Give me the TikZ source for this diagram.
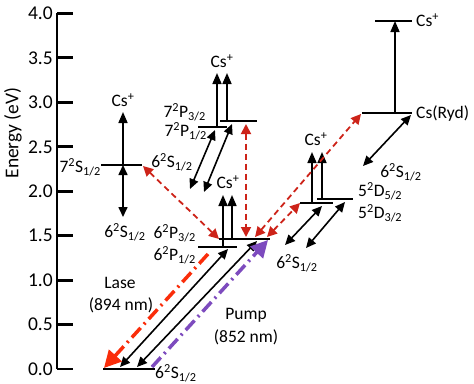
\documentclass[tikz,border=0pt]{standalone}
\usepackage{fontspec}
\setmainfont{Carlito}
\usetikzlibrary{arrows.meta}
\definecolor{dred}{RGB}{205,35,25}
\definecolor{lred}{RGB}{250,45,10}
\definecolor{pump}{RGB}{125,75,190}
\newcommand{\lv}[3]{#1\textsuperscript{2}#2\textsubscript{#3}}
\newcommand{\csp}{Cs\textsuperscript{+}}
\begin{document}
\begin{tikzpicture}[x=1pt,y=-1pt,
  level/.style={line width=2.6pt},
  axisline/.style={line width=2.8pt},
  uparr/.style={line width=1.6pt,-{Triangle[length=11pt,width=9pt]}},
  dbl/.style={line width=1.6pt,{Triangle[length=10pt,width=9pt]}-{Triangle[length=10pt,width=9pt]}},
  rdash/.style={draw=dred,line width=1.8pt,dash pattern=on 6pt off 4pt,
     {Triangle[length=10pt,width=10pt]}-{Triangle[length=10pt,width=10pt]}},
  lase/.style={draw=lred,line width=3.5pt,dash pattern=on 13pt off 5pt on 2pt off 5pt,
     -{Triangle[length=17pt,width=17pt]}},
  pumparr/.style={draw=pump,line width=3.5pt,dash pattern=on 13pt off 5pt on 2pt off 5pt,
     -{Triangle[length=17pt,width=17pt]}},
  lbl/.style={font=\fontsize{17.5}{20}\selectfont,inner sep=1pt},
  axlbl/.style={font=\fontsize{19.5}{22}\selectfont,inner sep=1pt}]
\useasboundingbox (0,0) rectangle (474,383);
% axis
\coordinate (atop) at (57,13.4);
\coordinate (abot) at (57,369);
\draw[axisline] (atop) -- (abot);
\foreach \e/\t in {0/0.0,0.5/0.5,1/1.0,1.5/1.5,2/2.0,2.5/2.5,3/3.0,3.5/3.5,4/4.0}{
  \coordinate (tk) at (57,369-88.9*\e);
  \draw[axisline] (tk) -- ++(16,0);
  \node[axlbl,anchor=east] (tl\e) at ([xshift=-3pt]tk) {\t};
}
\node[axlbl,rotate=90] (ylab) at (13,133) {Energy (eV)};
% ground
\coordinate (g1) at (103,369); \coordinate (g2) at (155,369);
\draw[level] (g1) -- (g2);
\node[lbl,anchor=west] (gl) at (154,373) {\lv{6}{S}{1/2}};
% 6P
\coordinate (p1a) at (198,247); \coordinate (p1b) at (237,247);
\coordinate (p3a) at (219,239); \coordinate (p3b) at (270,239);
\draw[level] (p1a) -- (p1b);
\draw[level] (p3a) -- (p3b);
\node[lbl,anchor=east] (p3l) at (197,233) {\lv{6}{P}{3/2}};
\node[lbl,anchor=east] (p1l) at (197,255) {\lv{6}{P}{1/2}};
\coordinate (p1u) at (223,247); \coordinate (p1t) at (223,195);
\coordinate (p3u) at (232,239); \coordinate (p3t) at (232,195);
\draw[uparr] (p1u) -- (p1t);
\draw[uparr] (p3u) -- (p3t);
\node[lbl] (pcs) at (228,182) {\csp};
% 7S
\coordinate (s7a) at (101,165); \coordinate (s7b) at (142,165);
\draw[level] (s7a) -- (s7b);
\node[lbl,anchor=east] (s7l) at (102,167) {\lv{7}{S}{1/2}};
\coordinate (s7m) at (123,165); \coordinate (s7t) at (123,112); \coordinate (s7d) at (123,217);
\draw[uparr] (s7m) -- (s7t);
\draw[dbl] (s7d) -- (s7m);
\node[lbl] (s7cs) at (123,100) {\csp};
\node[lbl] (s7g) at (125,232) {\lv{6}{S}{1/2}};
% 7P
\coordinate (q1a) at (198,127); \coordinate (q1b) at (227,127);
\coordinate (q3a) at (220,121); \coordinate (q3b) at (257,121);
\draw[level] (q1a) -- (q1b);
\draw[level] (q3a) -- (q3b);
\node[lbl,anchor=east] (q3l) at (207,112) {\lv{7}{P}{3/2}};
\node[lbl,anchor=east] (q1l) at (208,131) {\lv{7}{P}{1/2}};
\coordinate (q1u) at (217,127); \coordinate (q1t) at (217,73);
\coordinate (q3u) at (227,121); \coordinate (q3t) at (227,73);
\draw[uparr] (q1u) -- (q1t);
\draw[uparr] (q3u) -- (q3t);
\node[lbl] (qcs) at (222,61) {\csp};
\coordinate (q1d1) at (215,130); \coordinate (q1d2) at (190,189);
\coordinate (q3d1) at (232,124); \coordinate (q3d2) at (204,192);
\draw[dbl] (q1d1) -- (q1d2);
\draw[dbl] (q3d1) -- (q3d2);
\node[lbl] (qg) at (172,162) {\lv{6}{S}{1/2}};
% 5D
\coordinate (d3a) at (300,203); \coordinate (d3b) at (333,203);
\coordinate (d5a) at (317,199); \coordinate (d5b) at (353,199);
\draw[level] (d3a) -- (d3b);
\draw[level] (d5a) -- (d5b);
\node[lbl,anchor=west] (d5l) at (357,191) {\lv{5}{D}{5/2}};
\node[lbl,anchor=west] (d3l) at (357,213) {\lv{5}{D}{3/2}};
\coordinate (d3u) at (312,203); \coordinate (d3t) at (312,152);
\coordinate (d5u) at (322,199); \coordinate (d5t) at (322,152);
\draw[uparr] (d3u) -- (d3t);
\draw[uparr] (d5u) -- (d5t);
\node[lbl] (dcs) at (316,139) {\csp};
\coordinate (dd1) at (322,206); \coordinate (dd2) at (285,245);
\coordinate (de1) at (345,202); \coordinate (de2) at (306,248);
\draw[dbl] (dd1) -- (dd2);
\draw[dbl] (de1) -- (de2);
\node[lbl] (dg) at (297,263) {\lv{6}{S}{1/2}};
% Rydberg
\coordinate (ra) at (362,113); \coordinate (rb) at (412,113);
\draw[level] (ra) -- (rb);
\node[lbl,anchor=west] (rl) at (415,114) {Cs(Ryd)};
\coordinate (ia) at (375,21); \coordinate (ib) at (412,21);
\draw[level] (ia) -- (ib);
\node[lbl,anchor=west] (il) at (415,20) {\csp};
\coordinate (ru) at (395,113); \coordinate (rt) at (395,21);
\draw[uparr] (ru) -- (rt);
\coordinate (rd1) at (411,115); \coordinate (rd2) at (363,166);
\draw[dbl] (rd1) -- (rd2);
\node[lbl] (rg) at (401,172) {\lv{6}{S}{1/2}};
% red dashed transitions
\coordinate (r1a) at (143,166); \coordinate (r1b) at (219,239);
\draw[rdash] (r1a) -- (r1b);
\coordinate (r2a) at (246,124); \coordinate (r2b) at (246,237);
\draw[rdash] (r2a) -- (r2b);
\coordinate (r3a) at (255,237); \coordinate (r3b) at (361,114);
\draw[rdash] (r3a) -- (r3b);
\coordinate (r4a) at (267,237); \coordinate (r4b) at (300,203);
\draw[rdash] (r4a) -- (r4b);
% ground <-> 6P
\coordinate (a1a) at (120,367); \coordinate (a1b) at (228,249);
\coordinate (a2a) at (137,367); \coordinate (a2b) at (257,241);
\draw[dbl] (a1a) -- (a1b);
\draw[dbl] (a2a) -- (a2b);
% lase and pump
\coordinate (la) at (208,254); \coordinate (lb) at (104,368);
\draw[lase] (la) -- (lb);
\coordinate (pa) at (152,367); \coordinate (pb) at (268,240);
\draw[pumparr] (pa) -- (pb);
\node[lbl] (lase1) at (120,283) {Lase};
\node[lbl] (lase2) at (121,305) {(894 nm)};
\node[lbl] (pump1) at (246,315) {Pump};
\node[lbl] (pump2) at (246,337) {(852 nm)};
\end{tikzpicture}
\end{document}
